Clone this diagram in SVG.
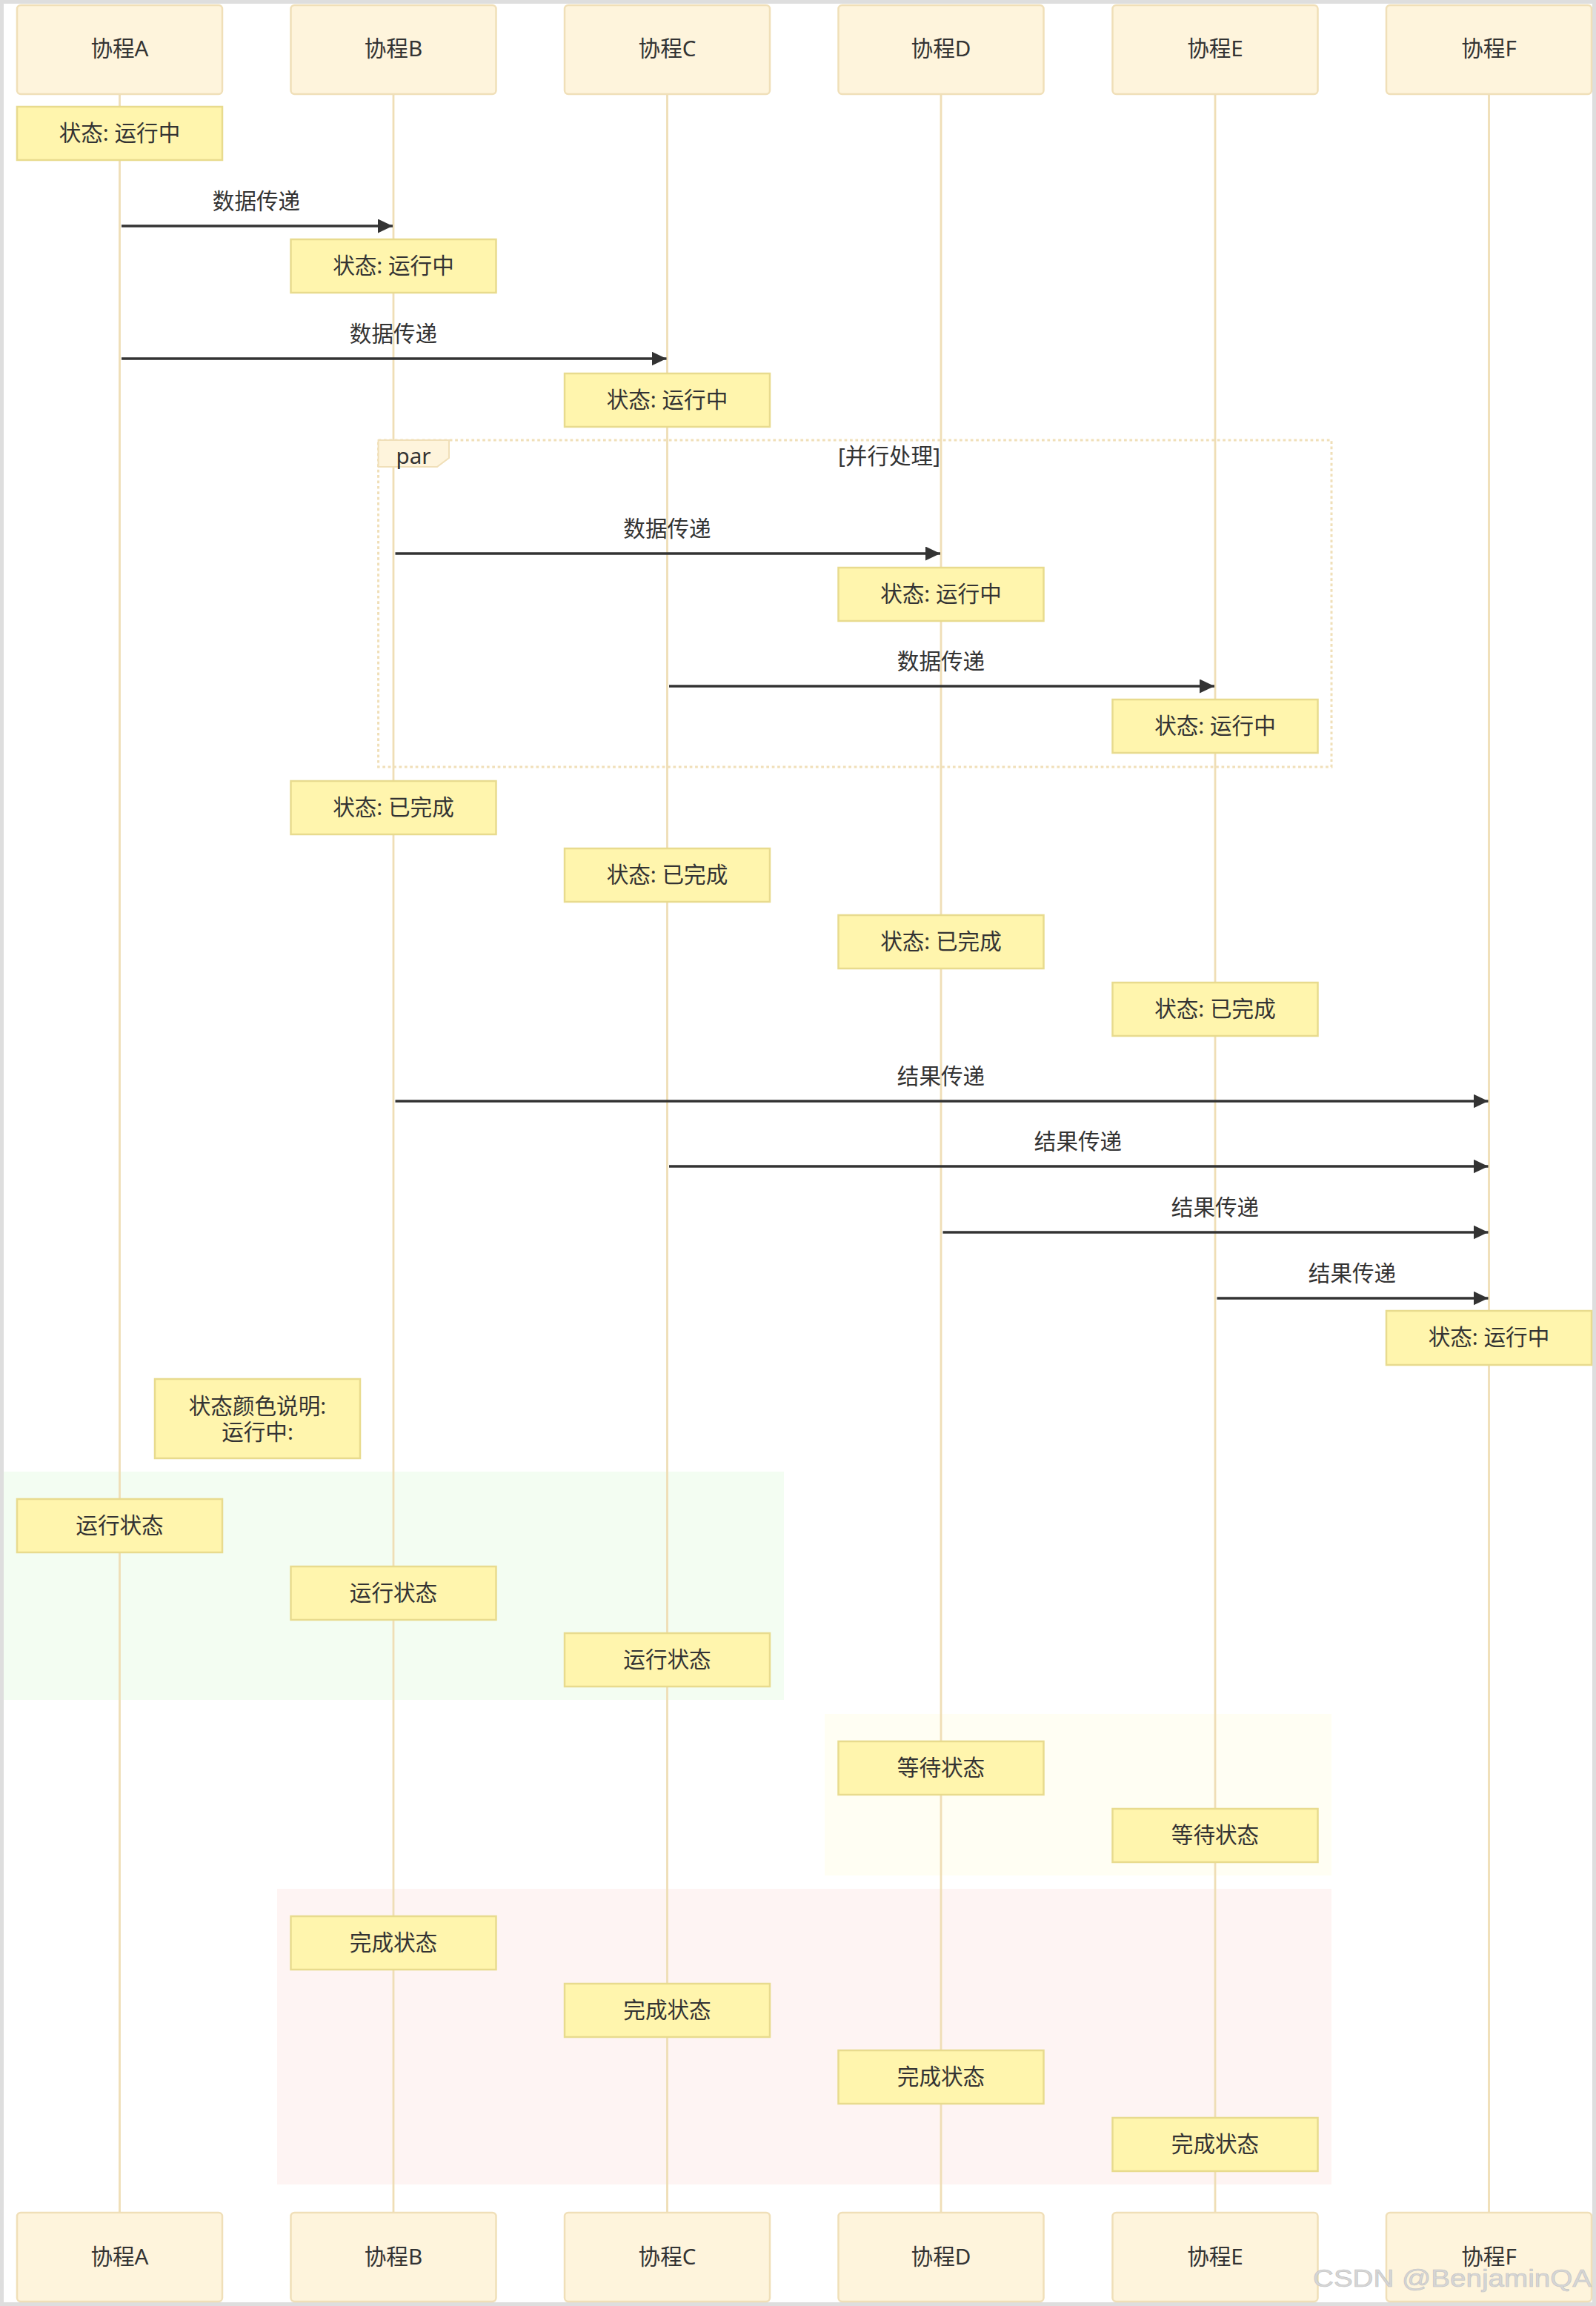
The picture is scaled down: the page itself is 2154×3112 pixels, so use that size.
<svg xmlns="http://www.w3.org/2000/svg" width="2154" height="3112" viewBox="0 0 2154 3112">
<style>
.actor{fill:#fef4dc;stroke:#f0dfb8;stroke-width:2.5}
.life{stroke:#efdeb6;stroke-width:2.8}
.note{fill:#fff5ad;stroke:#e8db8e;stroke-width:2.5}
.msg{stroke:#333;stroke-width:3.4;fill:none;marker-end:url(#arrow)}
.t{font-family:"Noto Sans","Noto Sans CJK SC",sans-serif;font-size:29.6px;fill:#333;text-anchor:middle;dominant-baseline:central}
</style>
<defs>
<marker id="arrow" markerUnits="userSpaceOnUse" markerWidth="22" markerHeight="20" viewBox="0 0 22 20" refX="20" refY="9.5" orient="auto">
<path d="M0,0 L20,9.5 L0,19 z" fill="#333"/>
</marker>
</defs>
<rect x="0" y="0" width="2154" height="3112" fill="#dedede"/>
<rect x="5" y="5" width="2144" height="3102" fill="#ffffff"/>
<g id="bands">
<rect x="5" y="1986" width="1053" height="308" fill="#f3fdf2"/>
<rect x="1113" y="2313" width="684" height="218" fill="#fffef3"/>
<rect x="374" y="2549" width="1423" height="399" fill="#fef4f3"/>
</g>
<g id="lifelines">
<line class="life" x1="161.5" y1="127" x2="161.5" y2="2986"/>
<line class="life" x1="531" y1="127" x2="531" y2="2986"/>
<line class="life" x1="900.5" y1="127" x2="900.5" y2="2986"/>
<line class="life" x1="1270" y1="127" x2="1270" y2="2986"/>
<line class="life" x1="1640" y1="127" x2="1640" y2="2986"/>
<line class="life" x1="2009.5" y1="127" x2="2009.5" y2="2986"/>
</g>
<g id="par">
<rect x="510.6" y="594" width="1286.4" height="441" fill="none" stroke="#f0dfb8" stroke-width="3" stroke-dasharray="3.7 3.7"/>
<polygon points="510.6,594 606,594 606,618 590,630 510.6,630" fill="#fef4dc" stroke="#f0dfb8" stroke-width="2"/>
<text class="t" x="558" y="614">par</text>
<text class="t" x="1200" y="614">[并行处理]</text>
</g>
<g id="connectors">
<line class="msg" x1="164" y1="305" x2="530" y2="305"/>
<text class="t" x="346" y="270">数据传递</text>
<line class="msg" x1="164" y1="484" x2="899.5" y2="484"/>
<text class="t" x="531" y="449">数据传递</text>
<line class="msg" x1="533.5" y1="747" x2="1269" y2="747"/>
<text class="t" x="900.5" y="712">数据传递</text>
<line class="msg" x1="903" y1="926" x2="1639" y2="926"/>
<text class="t" x="1270" y="891">数据传递</text>
<line class="msg" x1="533.5" y1="1486" x2="2008.5" y2="1486"/>
<text class="t" x="1270" y="1451">结果传递</text>
<line class="msg" x1="903" y1="1574" x2="2008.5" y2="1574"/>
<text class="t" x="1455" y="1539">结果传递</text>
<line class="msg" x1="1272.5" y1="1663" x2="2008.5" y2="1663"/>
<text class="t" x="1640" y="1628">结果传递</text>
<line class="msg" x1="1642.5" y1="1752" x2="2008.5" y2="1752"/>
<text class="t" x="1825" y="1717">结果传递</text>
</g>
<g id="note-a-run"><rect class="note" x="23" y="144" width="277" height="72"/><text class="t" x="161.5" y="178.5">状态: 运行中</text></g>
<g id="note-b-run"><rect class="note" x="392.5" y="323" width="277" height="72"/><text class="t" x="531" y="357.5">状态: 运行中</text></g>
<g id="note-c-run"><rect class="note" x="762" y="504" width="277" height="72"/><text class="t" x="900.5" y="538.5">状态: 运行中</text></g>
<g id="note-d-run"><rect class="note" x="1131.5" y="766" width="277" height="72"/><text class="t" x="1270" y="800.5">状态: 运行中</text></g>
<g id="note-e-run"><rect class="note" x="1501.5" y="944" width="277" height="72"/><text class="t" x="1640" y="978.5">状态: 运行中</text></g>
<g id="note-b-done"><rect class="note" x="392.5" y="1054" width="277" height="72"/><text class="t" x="531" y="1088.5">状态: 已完成</text></g>
<g id="note-c-done"><rect class="note" x="762" y="1145" width="277" height="72"/><text class="t" x="900.5" y="1179.5">状态: 已完成</text></g>
<g id="note-d-done"><rect class="note" x="1131.5" y="1235" width="277" height="72"/><text class="t" x="1270" y="1269.5">状态: 已完成</text></g>
<g id="note-e-done"><rect class="note" x="1501.5" y="1326" width="277" height="72"/><text class="t" x="1640" y="1360.5">状态: 已完成</text></g>
<g id="note-f-run"><rect class="note" x="1871" y="1769" width="277" height="73"/><text class="t" x="2009.5" y="1803.5">状态: 运行中</text></g>
<g id="note-legend"><rect class="note" x="209" y="1861" width="277" height="107"/><text class="t" x="347.5" y="1896.5">状态颜色说明:</text><text class="t" x="347.5" y="1931.5">运行中:</text></g>
<g id="note-a-run2"><rect class="note" x="23" y="2023" width="277" height="72"/><text class="t" x="161.5" y="2057.5">运行状态</text></g>
<g id="note-b-run2"><rect class="note" x="392.5" y="2114" width="277" height="72"/><text class="t" x="531" y="2148.5">运行状态</text></g>
<g id="note-c-run2"><rect class="note" x="762" y="2204" width="277" height="72"/><text class="t" x="900.5" y="2238.5">运行状态</text></g>
<g id="note-d-wait"><rect class="note" x="1131.5" y="2350" width="277" height="72"/><text class="t" x="1270" y="2384.5">等待状态</text></g>
<g id="note-e-wait"><rect class="note" x="1501.5" y="2441" width="277" height="72"/><text class="t" x="1640" y="2475.5">等待状态</text></g>
<g id="note-b-fin"><rect class="note" x="392.5" y="2586" width="277" height="72"/><text class="t" x="531" y="2620.5">完成状态</text></g>
<g id="note-c-fin"><rect class="note" x="762" y="2677" width="277" height="72"/><text class="t" x="900.5" y="2711.5">完成状态</text></g>
<g id="note-d-fin"><rect class="note" x="1131.5" y="2767" width="277" height="72"/><text class="t" x="1270" y="2801.5">完成状态</text></g>
<g id="note-e-fin"><rect class="note" x="1501.5" y="2858" width="277" height="72"/><text class="t" x="1640" y="2892.5">完成状态</text></g>
<g id="actor-a-top"><rect class="actor" x="23" y="7" width="277" height="120" rx="5"/><text class="t" x="161.5" y="64">协程A</text></g>
<g id="actor-b-top"><rect class="actor" x="392.5" y="7" width="277" height="120" rx="5"/><text class="t" x="531" y="64">协程B</text></g>
<g id="actor-c-top"><rect class="actor" x="762" y="7" width="277" height="120" rx="5"/><text class="t" x="900.5" y="64">协程C</text></g>
<g id="actor-d-top"><rect class="actor" x="1131.5" y="7" width="277" height="120" rx="5"/><text class="t" x="1270" y="64">协程D</text></g>
<g id="actor-e-top"><rect class="actor" x="1501.5" y="7" width="277" height="120" rx="5"/><text class="t" x="1640" y="64">协程E</text></g>
<g id="actor-f-top"><rect class="actor" x="1871" y="7" width="277" height="120" rx="5"/><text class="t" x="2009.5" y="64">协程F</text></g>
<g id="actor-a-bottom"><rect class="actor" x="23" y="2986" width="277" height="120" rx="5"/><text class="t" x="161.5" y="3044">协程A</text></g>
<g id="actor-b-bottom"><rect class="actor" x="392.5" y="2986" width="277" height="120" rx="5"/><text class="t" x="531" y="3044">协程B</text></g>
<g id="actor-c-bottom"><rect class="actor" x="762" y="2986" width="277" height="120" rx="5"/><text class="t" x="900.5" y="3044">协程C</text></g>
<g id="actor-d-bottom"><rect class="actor" x="1131.5" y="2986" width="277" height="120" rx="5"/><text class="t" x="1270" y="3044">协程D</text></g>
<g id="actor-e-bottom"><rect class="actor" x="1501.5" y="2986" width="277" height="120" rx="5"/><text class="t" x="1640" y="3044">协程E</text></g>
<g id="actor-f-bottom"><rect class="actor" x="1871" y="2986" width="277" height="120" rx="5"/><text class="t" x="2009.5" y="3044">协程F</text></g>
<text x="1772" y="3086" font-family="Liberation Sans, sans-serif" font-size="33" fill="#d6d6d6" stroke="#c2c2c2" stroke-width="0.6" textLength="376" lengthAdjust="spacingAndGlyphs">CSDN @BenjaminQA</text>
</svg>
